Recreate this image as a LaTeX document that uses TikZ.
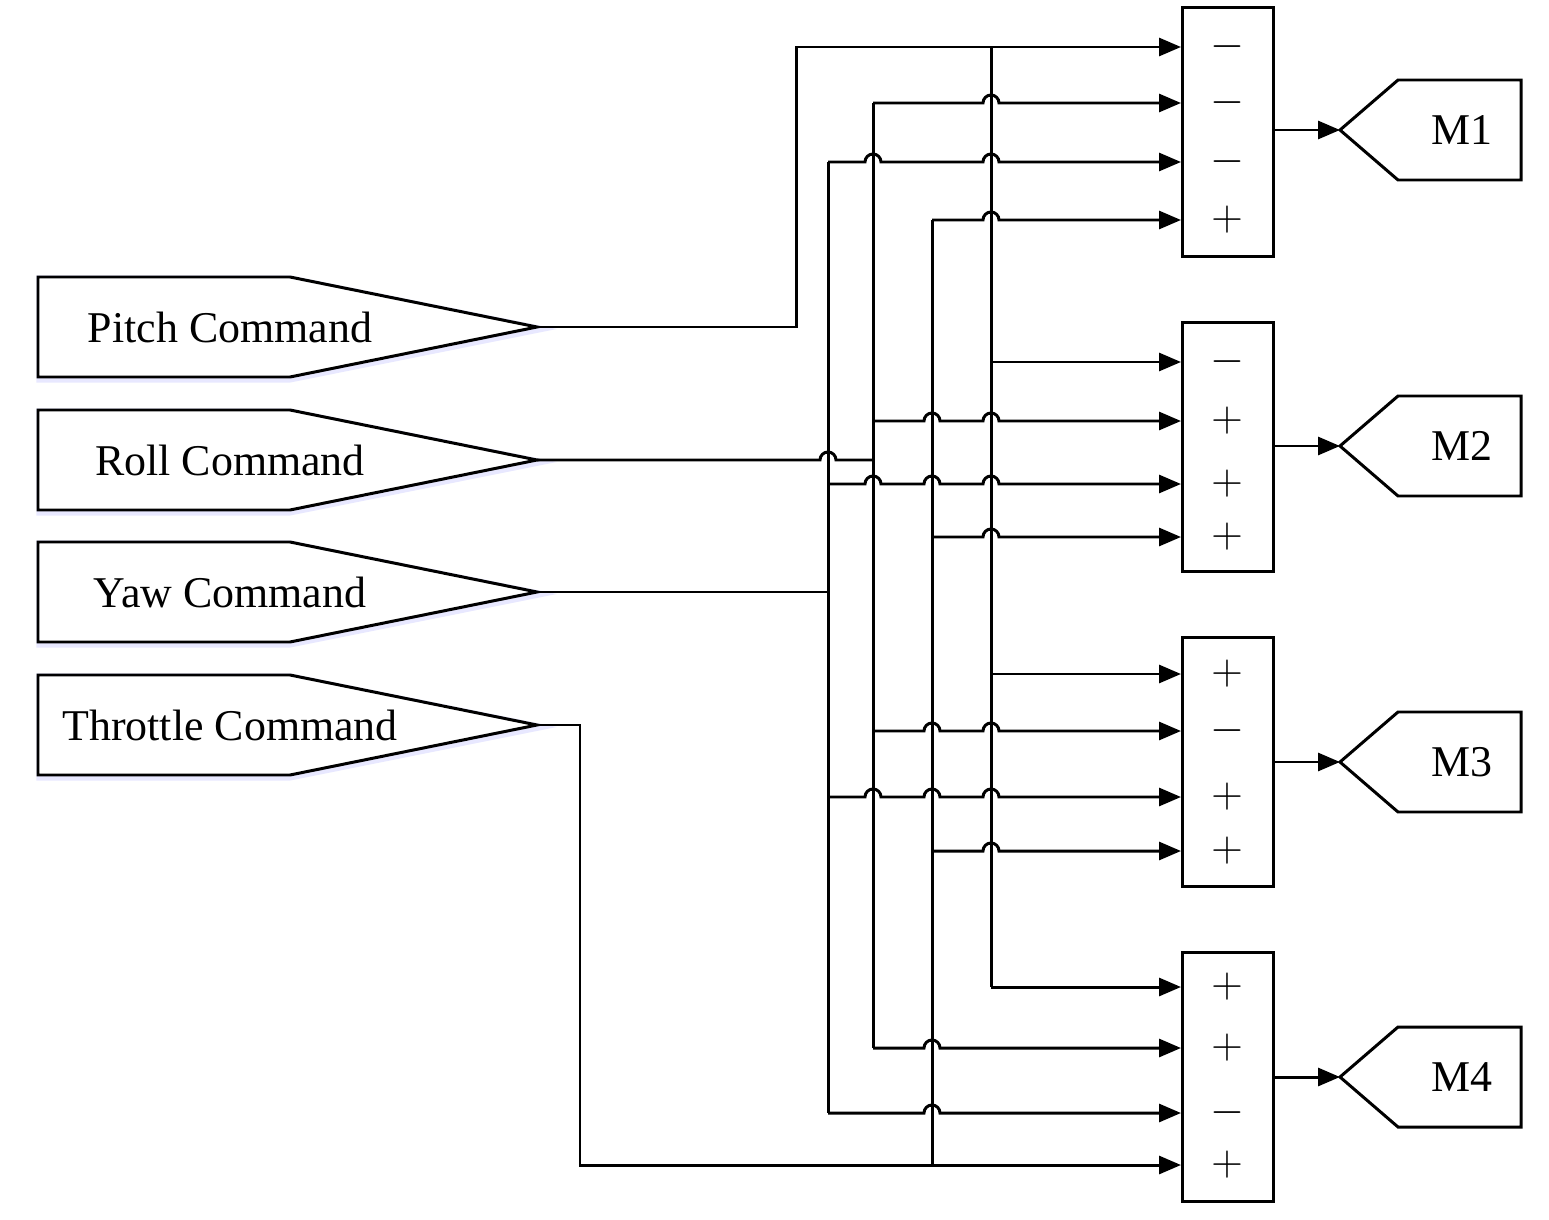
\documentclass[tikz,border=0pt]{standalone}
\usepackage{fontspec}
\setmainfont{Liberation Serif}
\usetikzlibrary{arrows.meta}
\begin{document}
\begin{tikzpicture}[x=0.02cm,y=-0.02cm,
  wire/.style={line width=1.7pt,line join=miter},
  arr/.style={wire,-{Triangle[length=0.44cm,width=0.36cm]}},
  box/.style={line width=1.7pt},
  lbl/.style={font=\fontsize{25}{28}\selectfont},
  sgn/.style={font=\fontsize{28}{30}\selectfont}]
\useasboundingbox (0,0) rectangle (1549,1220);
\newcommand{\hjump}[3]{\draw[arr] (#2,#1) foreach \j in {#3}{ -- (\j-8,#1) arc[start angle=180,end angle=0,radius=0.16cm] } -- (1181,#1);}
\newcommand{\hplain}[2]{\draw[arr] (#2,#1) -- (1181,#1);}
% command shapes
\foreach \c/\t/\n in {327/Pitch Command/pitch,460/Roll Command/roll,592/Yaw Command/yaw,725/Throttle Command/thr}{
  \draw[box,draw=blue!15,line width=4pt,opacity=0.6] (40,\c-48) -- (290,\c-48) -- (539,\c+2) -- (290,\c+52) -- (40,\c+52) -- cycle;
  \draw[box,fill=white] (38,\c-50) -- (290,\c-50) -- (537,\c) -- (290,\c+50) -- (38,\c+50) -- cycle;
  \node[lbl] (\n) at (230,\c) {\t};
}
% sum blocks
\foreach \y/\n in {6/s1,321/s2,636/s3,951/s4}{
  \node[box,draw,minimum width=0.02cm*91,minimum height=0.02cm*249,inner sep=0,anchor=north west] (\n) at (1181,\y) {};
}
\foreach \y/\s in {47/-,103/-,162/-,220/+,362/-,421/+,484/+,537/+,674/+,731/-,797/+,851/+,987/+,1048/+,1113/-,1165/+}{
  \node[sgn] at (1227,\y) {$\s$};
}
% outputs
\foreach \c/\n/\s in {130/M1/s1,446/M2/s2,762/M3/s3,1077/M4/s4}{
  \draw[box] (1340,\c) -- (1398,\c-50) -- (1521,\c-50) -- (1521,\c+50) -- (1398,\c+50) -- cycle;
  \node[lbl] (\n) at (1462,\c) {\n};
  \draw[arr] (1272,\c) -- (1340,\c);
}
% buses
\draw[arr] (537,327) -- (796,327) -- (796,47) -- (1181,47);
\draw[wire] (991,47) -- (991,987);
\draw[wire] (828,162) -- (828,1113);
\draw[wire] (873,103) -- (873,1048);
\draw[wire] (932,220) -- (932,1165);
\draw[wire] (537,460) -- (820,460) arc[start angle=180,end angle=0,radius=0.16cm] -- (873,460);
\draw[wire] (537,592) -- (828,592);
\draw[arr] (537,725) -- (580,725) -- (580,1165) -- (1181,1165);
% branches
\hjump{103}{873}{991}
\hjump{162}{828}{873,991}
\hjump{220}{932}{991}
\hplain{362}{991}
\hjump{421}{873}{932,991}
\hjump{484}{828}{873,932,991}
\hjump{537}{932}{991}
\hplain{674}{991}
\hjump{731}{873}{932,991}
\hjump{797}{828}{873,932,991}
\hjump{851}{932}{991}
\hplain{987}{991}
\hjump{1048}{873}{932}
\hjump{1113}{828}{932}
\end{tikzpicture}
\end{document}
